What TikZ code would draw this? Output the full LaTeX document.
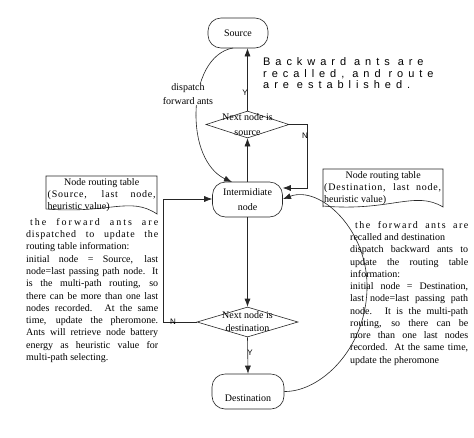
\documentclass[tikz,border=0pt]{standalone}
\usepackage{fontspec}
\setmainfont{Liberation Serif}
\newfontfamily\sansf{Liberation Sans}
\newfontfamily\widesans[LetterSpace=45]{Liberation Sans}
\newfontfamily\wideserif[LetterSpace=20]{Liberation Serif}
\newfontfamily\wideserifB[LetterSpace=14]{Liberation Serif}
\newfontfamily\midserif[LetterSpace=8]{Liberation Serif}
\usetikzlibrary{arrows.meta,shapes.geometric}
\begin{document}
\begin{tikzpicture}[x=1pt,y=-1pt,
  line/.style={draw=black!85, line width=0.6pt},
  arr/.style={line, -{Latex[length=8pt,width=6pt]}},
  term/.style={draw=black!85, line width=0.6pt, rounded corners=13pt, inner sep=0pt},
  dec/.style={draw=black!85, line width=0.6pt, shape=diamond, inner sep=0pt},
  txt/.style={font=\fontsize{10}{12}\selectfont, inner sep=0pt, align=center},
  lab/.style={font=\sansf\fontsize{8}{9}\selectfont, inner sep=0.5pt},
  para/.style={font=\fontsize{10}{12.3}\selectfont, align=left, inner sep=0pt, anchor=north west},
]
\useasboundingbox (0,0) rectangle (474,437);
\fill[white] (0,0) rectangle (474,437);

% terminals and decisions
\node[term, minimum width=60pt, minimum height=30pt,
      label={[txt]center:Source}] (src) at (238,33) {};
\node[dec, minimum width=83pt, minimum height=27pt,
      label={[txt, font=\fontsize{10}{15}\selectfont]center:Next node is\\source}] (d1) at (247.5,124.5) {};
\node[term, minimum width=70pt, minimum height=35pt,
      label={[txt, font=\fontsize{10}{15}\selectfont]center:Intermidiate\\node}] (inter) at (247.5,199.5) {};
\node[dec, minimum width=101pt, minimum height=30pt,
      label={[txt, font=\fontsize{10}{13}\selectfont]center:Next node is\\destination}] (d2) at (247.5,322) {};
\node[term, minimum width=72pt, minimum height=35pt,
      label={[txt, yshift=-7pt]center:Destination}] (dest) at (248,391.5) {};

% main connectors
\draw[arr] (d1.north) -- (d1.north |- src.south);
\node[lab] (y1) at (245,93) {Y};
\draw[arr] (inter.north) -- (d1.south);
\draw[arr] (inter.south) -- (d2.north);
\draw[arr] (d2.south) -- (dest.north);
\node[lab] (y2) at (250,353) {Y};

% N branches
\coordinate (nr) at (307,188);
\draw[arr] (d1.east) -| (nr) -- (nr -| inter.east);
\node[lab] (n1) at (305,136) {N};
\coordinate (nl) at (163,199);
\draw[arr] (d2.west) -| (nl) -- (nl -| inter.west);
\node[lab] (n2) at (173,322) {N};

% dispatch forward ants curve
\coordinate (lb) at (196,115);
\coordinate (ls) at (233,48);
\coordinate (le) at (232,182);
\draw[line] (ls) .. controls (210,52) and (196,80) .. (lb);
\draw[arr] (lb) .. controls (196,150) and (210,172) .. (le);
\node[txt, fill=white, inner sep=0.5pt, font=\fontsize{10}{14}\selectfont] (disp) at (188,94) {dispatch\\forward ants};

% backward ants curve
\coordinate (rb) at (367,290);
\coordinate (re) at (283,199);
\draw[line] (dest.east) .. controls (320,392) and (365,350) .. (rb);
\draw[arr] (rb) .. controls (369,230) and (320,185) .. (re);

% backward note
\node[para, font=\widesans\fontsize{11}{11.5}\selectfont] (bnote) at (263,57.5)
  {\rule{0pt}{8pt}Backward ants are\\recalled, and route\\are established.};

% document shapes
\draw[line] (46,209) -- (46,176) -- (157,176) -- (157,214)
  .. controls (130,196) and (110,214) .. (46,209);
\node[para, font=\fontsize{10}{12}\selectfont] (ldoc) at (47.5,177)
  {\rule{0pt}{8pt}\makebox[108pt]{Node routing table}\\
   \makebox[108pt][s]{\midserif (Source, last node,}\\
   heuristic value)};
\draw[line] (323,207) -- (323,169) -- (443,169) -- (443,207)
  .. controls (415,190) and (390,212) .. (323,206);
\node[para, font=\fontsize{10}{12}\selectfont] (rdoc) at (324,170)
  {\rule{0pt}{8pt}\makebox[118pt]{Node routing table}\\
   \makebox[117pt][s]{\midserif (Destination, last node,}\\
   heuristic value)};

% paragraphs
\node[para] (lpar) at (26,217)
  {\rule{0pt}{8pt}\hspace*{4pt}\makebox[128pt][s]{\wideserif the forward ants are}\\
   \makebox[132pt][s]{\midserif dispatched to update the}\\
   routing table information:\\
   \makebox[132pt][s]{initial node = Source, last}\\
   \makebox[132pt][s]{node=last passing path node. It}\\
   \makebox[132pt][s]{is the multi-path routing, so}\\
   \makebox[132pt][s]{there can be more than one last}\\
   \makebox[132pt][s]{nodes recorded. At the same}\\
   \makebox[132pt][s]{time, update the pheromone.}\\
   \makebox[132pt][s]{Ants will retrieve node battery}\\
   \makebox[132pt][s]{energy as heuristic value for}\\
   multi-path selecting.};
\node[para, font=\fontsize{10}{12.27}\selectfont] (rpar) at (350,220)
  {\rule{0pt}{8pt}\hspace*{5pt}\makebox[113pt][s]{\wideserifB the forward ants are}\\
   recalled and destination\\
   \makebox[118pt][s]{dispatch backward ants to}\\
   \makebox[118pt][s]{update the routing table}\\
   information:\\
   \makebox[118pt][s]{initial node = Destination,}\\
   \makebox[118pt][s]{last node=last passing path}\\
   \makebox[118pt][s]{node. It is the multi-path}\\
   \makebox[118pt][s]{routing, so there can be}\\
   \makebox[118pt][s]{more than one last nodes}\\
   \makebox[118pt][s]{recorded. At the same time,}\\
   update the pheromone};
\end{tikzpicture}
\end{document}
